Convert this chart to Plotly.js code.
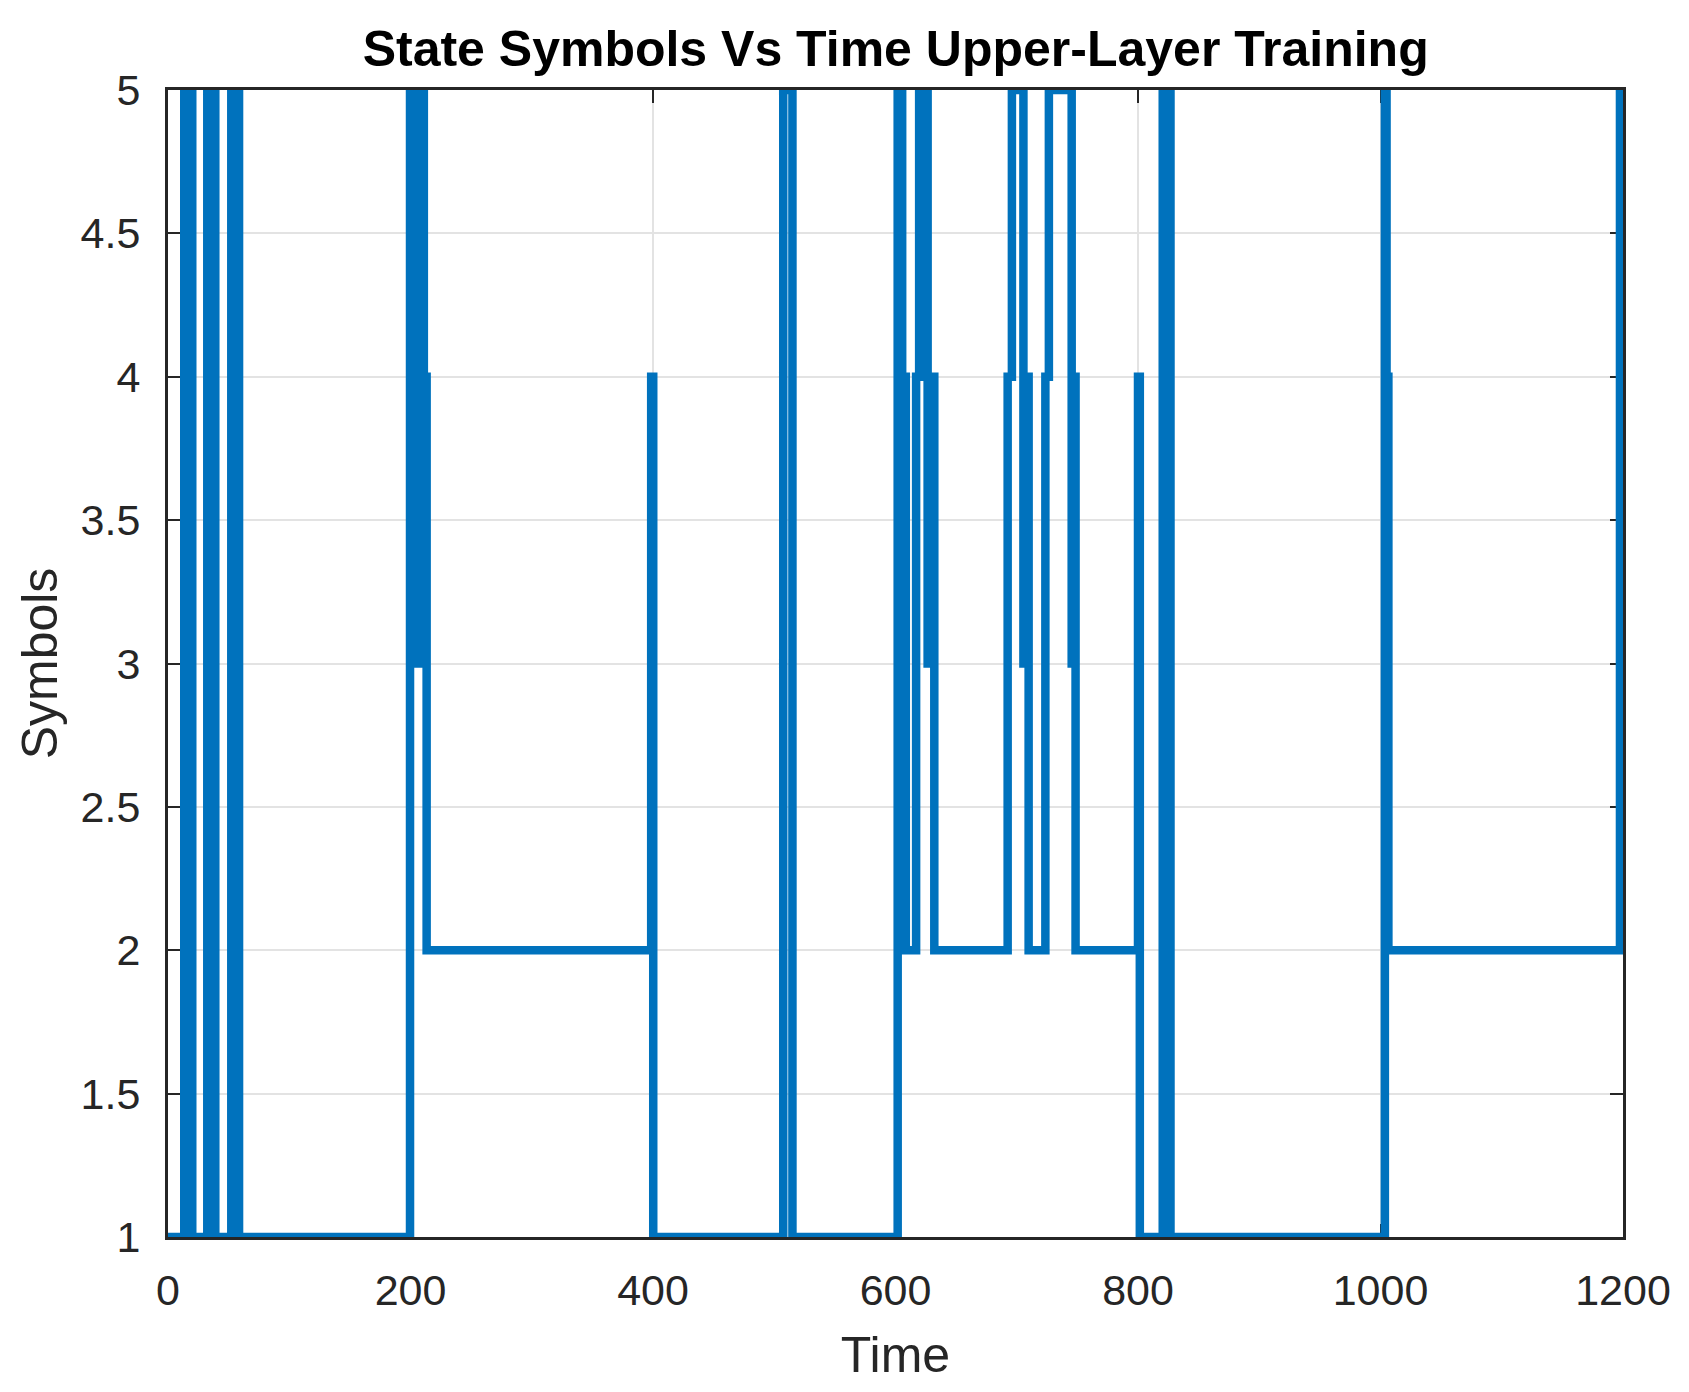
<!DOCTYPE html>
<html>
<head>
<meta charset="utf-8">
<script src="https://cdn.plot.ly/plotly-3.0.1.min.js"></script>
<style>
  html, body { margin: 0; padding: 0; background: #ffffff; }
  #chart { width: 1689px; height: 1392px; }
</style>
</head>
<body>
<div id="chart"></div>
<script>
// Step (stairs) data: time at which each new symbol value starts
var timeValues = [0, 13.4, 20.0, 32.4, 39.0, 52.2, 58.6,
  199.6, 204.3, 208.5, 211, 213.3,
  398.5, 400.2,
  507.4, 515.0,
  601.8, 605.5, 608.5,
  617, 619.5, 626.5, 629, 632,
  692.5, 696, 705.5, 707.5, 709.8,
  723.6, 726.5, 745.3, 747, 748.5,
  800, 801.5,
  820.4, 826.8,
  1003.6, 1005, 1006.5,
  1197.5, 1200];
var symbolValues = [1, 5, 1, 5, 1, 5, 1,
  5, 3, 5, 4, 2,
  4, 1,
  5, 1,
  5, 4, 2,
  4, 5, 3, 4, 2,
  4, 5, 3, 4, 2,
  4, 5, 3, 4, 2,
  4, 1,
  5, 1,
  5, 4, 2,
  5, 5];

var xTickVals = [0, 200, 400, 600, 800, 1000, 1200];
var yTickVals = [1, 1.5, 2, 2.5, 3, 3.5, 4, 4.5, 5];
var yTickText = ['1', '1.5', '2', '2.5', '3', '3.5', '4', '4.5', '5'];

var chartTitle = 'State Symbols Vs Time Upper-Layer Training';
var xLabel = 'Time';
var yLabel = 'Symbols';

var trace = {
  x: timeValues,
  y: symbolValues,
  type: 'scatter',
  mode: 'lines',
  line: { shape: 'hv', color: '#0072BD', width: 8.5 },
  cliponaxis: false,
  hoverinfo: 'x+y'
};

var fontFam = '"Liberation Sans", Arial, Helvetica, sans-serif';

var layout = {
  width: 1689,
  height: 1392,
  paper_bgcolor: '#ffffff',
  plot_bgcolor: '#ffffff',
  showlegend: false,
  margin: { l: 168, r: 66, t: 90, b: 155, pad: 0 },
  font: { family: fontFam, color: '#262626', size: 43 },
  title: {
    text: '<b>' + chartTitle + '</b>',
    font: { family: fontFam, size: 50, color: '#000000' },
    x: 0.5303, xanchor: 'center',
    y: 1 - 48 / 1392, yref: 'container', yanchor: 'middle'
  },
  xaxis: {
    range: [0, 1200],
    tickvals: xTickVals,
    ticktext: xTickVals.map(String),
    ticks: 'inside', ticklen: 13, tickwidth: 2, tickcolor: '#262626',
    showline: true, linecolor: '#262626', linewidth: 3, mirror: 'ticks',
    showgrid: true, gridcolor: '#e3e3e3', gridwidth: 2,
    zeroline: false,
    layer: 'below traces',
    tickfont: { family: fontFam, size: 43, color: '#262626' },
    ticklabelstandoff: 13,
    title: { text: xLabel, font: { family: fontFam, size: 50, color: '#262626' }, standoff: 25 },
    automargin: false
  },
  yaxis: {
    range: [1, 5],
    tickvals: yTickVals,
    ticktext: yTickText,
    ticks: 'inside', ticklen: 13, tickwidth: 2, tickcolor: '#262626',
    showline: true, linecolor: '#262626', linewidth: 3, mirror: 'ticks',
    showgrid: true, gridcolor: '#e3e3e3', gridwidth: 2,
    zeroline: false,
    layer: 'below traces',
    tickfont: { family: fontFam, size: 43, color: '#262626' },
    ticklabelstandoff: 16,
    title: { text: yLabel, font: { family: fontFam, size: 50, color: '#262626' }, standoff: 8 },
    automargin: false
  }
};

Plotly.newPlot('chart', [trace], layout, { displayModeBar: false, staticPlot: true });
</script>
</body>
</html>
